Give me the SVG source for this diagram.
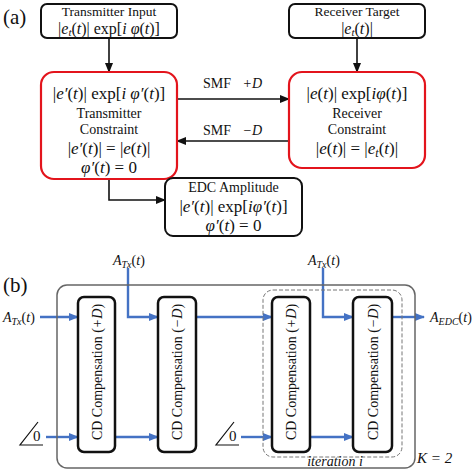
<svg xmlns="http://www.w3.org/2000/svg" width="474" height="475" viewBox="0 0 474 475" font-family="'Liberation Serif','DejaVu Serif',serif">
<defs>
<style>
text{fill:#111;}
.t{font-size:14px;}
.m{font-size:17px;}
.m2{font-size:16px;}
.h{font-size:13.5px;}
.i{font-style:italic;}
.lab{font-size:21px;}
.box{fill:#fff;stroke:#111;stroke-width:2;}
.red{fill:#fff;stroke:#e3141c;stroke-width:2.2;}
.blk{fill:#fff;stroke:#111;stroke-width:2.5;}
.k{fill:none;stroke:#111;stroke-width:1.6;}
.b{fill:none;stroke:#4472c4;stroke-width:2.4;}
.ang{fill:none;stroke:#111;stroke-width:1.2;}
.cd{font-size:14px;}
</style>
<marker id="ak" markerWidth="10" markerHeight="8" refX="9" refY="4" orient="auto" markerUnits="userSpaceOnUse"><path d="M0,0 L10,4 L0,8 z" fill="#111"/></marker>
<marker id="ab" markerWidth="10" markerHeight="8" refX="9" refY="4" orient="auto" markerUnits="userSpaceOnUse"><path d="M0,0 L10,4 L0,8 z" fill="#4472c4"/></marker>
</defs>
<rect width="474" height="475" fill="#fff"/>
<text class="lab" x="3" y="24">(a)</text>
<text class="lab" x="3" y="292">(b)</text>

<g id="connectors">
<line class="k" x1="109" y1="38" x2="109" y2="72" marker-end="url(#ak)"/>
<line class="k" x1="357" y1="38" x2="357" y2="72" marker-end="url(#ak)"/>
<line class="k" x1="177" y1="99" x2="289" y2="99" marker-end="url(#ak)"/>
<line class="k" x1="289" y1="141" x2="177" y2="141" marker-end="url(#ak)"/>
<path class="k" d="M109,179 V200 H165" marker-end="url(#ak)"/>
<text class="t" x="203" y="88">SMF <tspan class="i" dx="8">+D</tspan></text>
<text class="t" x="203" y="135">SMF <tspan class="i" dx="8">−D</tspan></text>

<line class="b" x1="40" y1="317" x2="78" y2="317" marker-end="url(#ab)"/>
<path class="b" d="M128,268 V317 H158" marker-end="url(#ab)"/>
<line class="b" x1="196" y1="317" x2="272" y2="317" marker-end="url(#ab)"/>
<path class="b" d="M323,268 V317 H353" marker-end="url(#ab)"/>
<line class="b" x1="392" y1="317" x2="424" y2="317" marker-end="url(#ab)"/>
<line class="b" x1="46" y1="437" x2="78" y2="437" marker-end="url(#ab)"/>
<line class="b" x1="115" y1="437" x2="158" y2="437" marker-end="url(#ab)"/>
<line class="b" x1="241" y1="437" x2="272" y2="437" marker-end="url(#ab)"/>
<line class="b" x1="310" y1="437" x2="353" y2="437" marker-end="url(#ab)"/>
</g>

<g id="tx-input">
<rect class="box" x="41" y="4" width="136" height="34" rx="6"/>
<text class="h" x="109" y="16" text-anchor="middle">Transmitter  Input</text>
<text class="m2" x="109" y="34" text-anchor="middle">|<tspan class="i">e</tspan><tspan class="i" font-size="11" dy="2">t</tspan><tspan dy="-2">(</tspan><tspan class="i">t</tspan>)| exp[<tspan class="i">i φ</tspan>(<tspan class="i">t</tspan>)]</text>
</g>

<g id="rx-target">
<rect class="box" x="289" y="4" width="136" height="34" rx="6"/>
<text class="h" x="357" y="16" text-anchor="middle">Receiver Target</text>
<text class="m2" x="357" y="34" text-anchor="middle">|<tspan class="i">e</tspan><tspan class="i" font-size="11" dy="2">t</tspan><tspan dy="-2">(</tspan><tspan class="i">t</tspan>)|</text>
</g>

<g id="tx-constraint">
<rect class="red" x="41" y="72" width="136" height="107" rx="13"/>
<text class="m" x="109" y="99" text-anchor="middle">|<tspan class="i">e′</tspan>(<tspan class="i">t</tspan>)| exp[<tspan class="i">i φ′</tspan>(<tspan class="i">t</tspan>)]</text>
<text class="t" x="109" y="118" text-anchor="middle">Transmitter</text>
<text class="t" x="109" y="134" text-anchor="middle">Constraint</text>
<text class="m" x="109" y="154" text-anchor="middle">|<tspan class="i">e′</tspan>(<tspan class="i">t</tspan>)| = |<tspan class="i">e</tspan>(<tspan class="i">t</tspan>)|</text>
<text class="m" x="109" y="173" text-anchor="middle"><tspan class="i">φ′</tspan>(<tspan class="i">t</tspan>) = 0</text>
</g>

<g id="rx-constraint">
<rect class="red" x="289" y="72" width="136" height="96" rx="13"/>
<text class="m" x="357" y="99" text-anchor="middle">|<tspan class="i">e</tspan>(<tspan class="i">t</tspan>)| exp[<tspan class="i">iφ</tspan>(<tspan class="i">t</tspan>)]</text>
<text class="t" x="357" y="118" text-anchor="middle">Receiver</text>
<text class="t" x="357" y="134" text-anchor="middle">Constraint</text>
<text class="m" x="357" y="154" text-anchor="middle">|<tspan class="i">e</tspan>(<tspan class="i">t</tspan>)| = |<tspan class="i">e</tspan><tspan class="i" font-size="12" dy="3">t</tspan><tspan dy="-3">(</tspan><tspan class="i">t</tspan>)|</text>
</g>

<g id="edc-amplitude">
<rect class="box" x="165" y="178" width="137" height="58" rx="8"/>
<text class="t" x="233.5" y="192" text-anchor="middle">EDC Amplitude</text>
<text class="m" x="233.5" y="212" text-anchor="middle">|<tspan class="i">e′</tspan>(<tspan class="i">t</tspan>)| exp[<tspan class="i">iφ′</tspan>(<tspan class="i">t</tspan>)]</text>
<text class="m" x="233.5" y="231" text-anchor="middle"><tspan class="i">φ′</tspan>(<tspan class="i">t</tspan>) = 0</text>
</g>

<g id="loop-k">
<rect x="57" y="285" width="358" height="183" rx="10" fill="none" stroke="#666" stroke-width="1.5"/>
<text class="i" font-size="15" x="417" y="463">K = 2</text>
</g>

<g id="iteration-i">
<rect x="263" y="290" width="139" height="167" rx="10" fill="none" stroke="#777" stroke-width="1" stroke-dasharray="4,2"/>
<text class="t i" x="335" y="466" text-anchor="middle">iteration i</text>
</g>

<g id="cd1">
<rect class="blk" x="78" y="297" width="37" height="155" rx="6"/>
<text class="cd" transform="translate(101.5,372) rotate(-90)" text-anchor="middle">CD Compensation (<tspan class="i">+D</tspan>)</text>
</g>
<g id="cd2">
<rect class="blk" x="158" y="297" width="38" height="155" rx="6"/>
<text class="cd" transform="translate(182,372) rotate(-90)" text-anchor="middle">CD Compensation (<tspan class="i">−D</tspan>)</text>
</g>
<g id="cd3">
<rect class="blk" x="272" y="297" width="38" height="155" rx="6"/>
<text class="cd" transform="translate(296,372) rotate(-90)" text-anchor="middle">CD Compensation (<tspan class="i">+D</tspan>)</text>
</g>
<g id="cd4">
<rect class="blk" x="353" y="297" width="39" height="155" rx="6"/>
<text class="cd" transform="translate(377.5,372) rotate(-90)" text-anchor="middle">CD Compensation (<tspan class="i">−D</tspan>)</text>
</g>

<g id="inputs">
<text class="t" x="3" y="322"><tspan class="i">A</tspan><tspan class="i" font-size="10" dy="3">Tx</tspan><tspan dy="-3">(</tspan><tspan class="i">t</tspan>)</text>
<text class="t" x="113" y="265"><tspan class="i">A</tspan><tspan class="i" font-size="10" dy="3">Tx</tspan><tspan dy="-3">(</tspan><tspan class="i">t</tspan>)</text>
<text class="t" x="308" y="265"><tspan class="i">A</tspan><tspan class="i" font-size="10" dy="3">Tx</tspan><tspan dy="-3">(</tspan><tspan class="i">t</tspan>)</text>
<text class="t" x="430" y="322"><tspan class="i">A</tspan><tspan class="i" font-size="10" dy="3">EDC</tspan><tspan dy="-3">(</tspan><tspan class="i">t</tspan>)</text>
</g>

<g id="phase-zero-1">
<path class="ang" d="M38,422 L20,445 H43"/>
<text x="33" y="441" font-size="15">0</text>
</g>
<g id="phase-zero-2">
<path class="ang" d="M234,422 L216,445 H239"/>
<text x="229" y="441" font-size="15">0</text>
</g>
</svg>
